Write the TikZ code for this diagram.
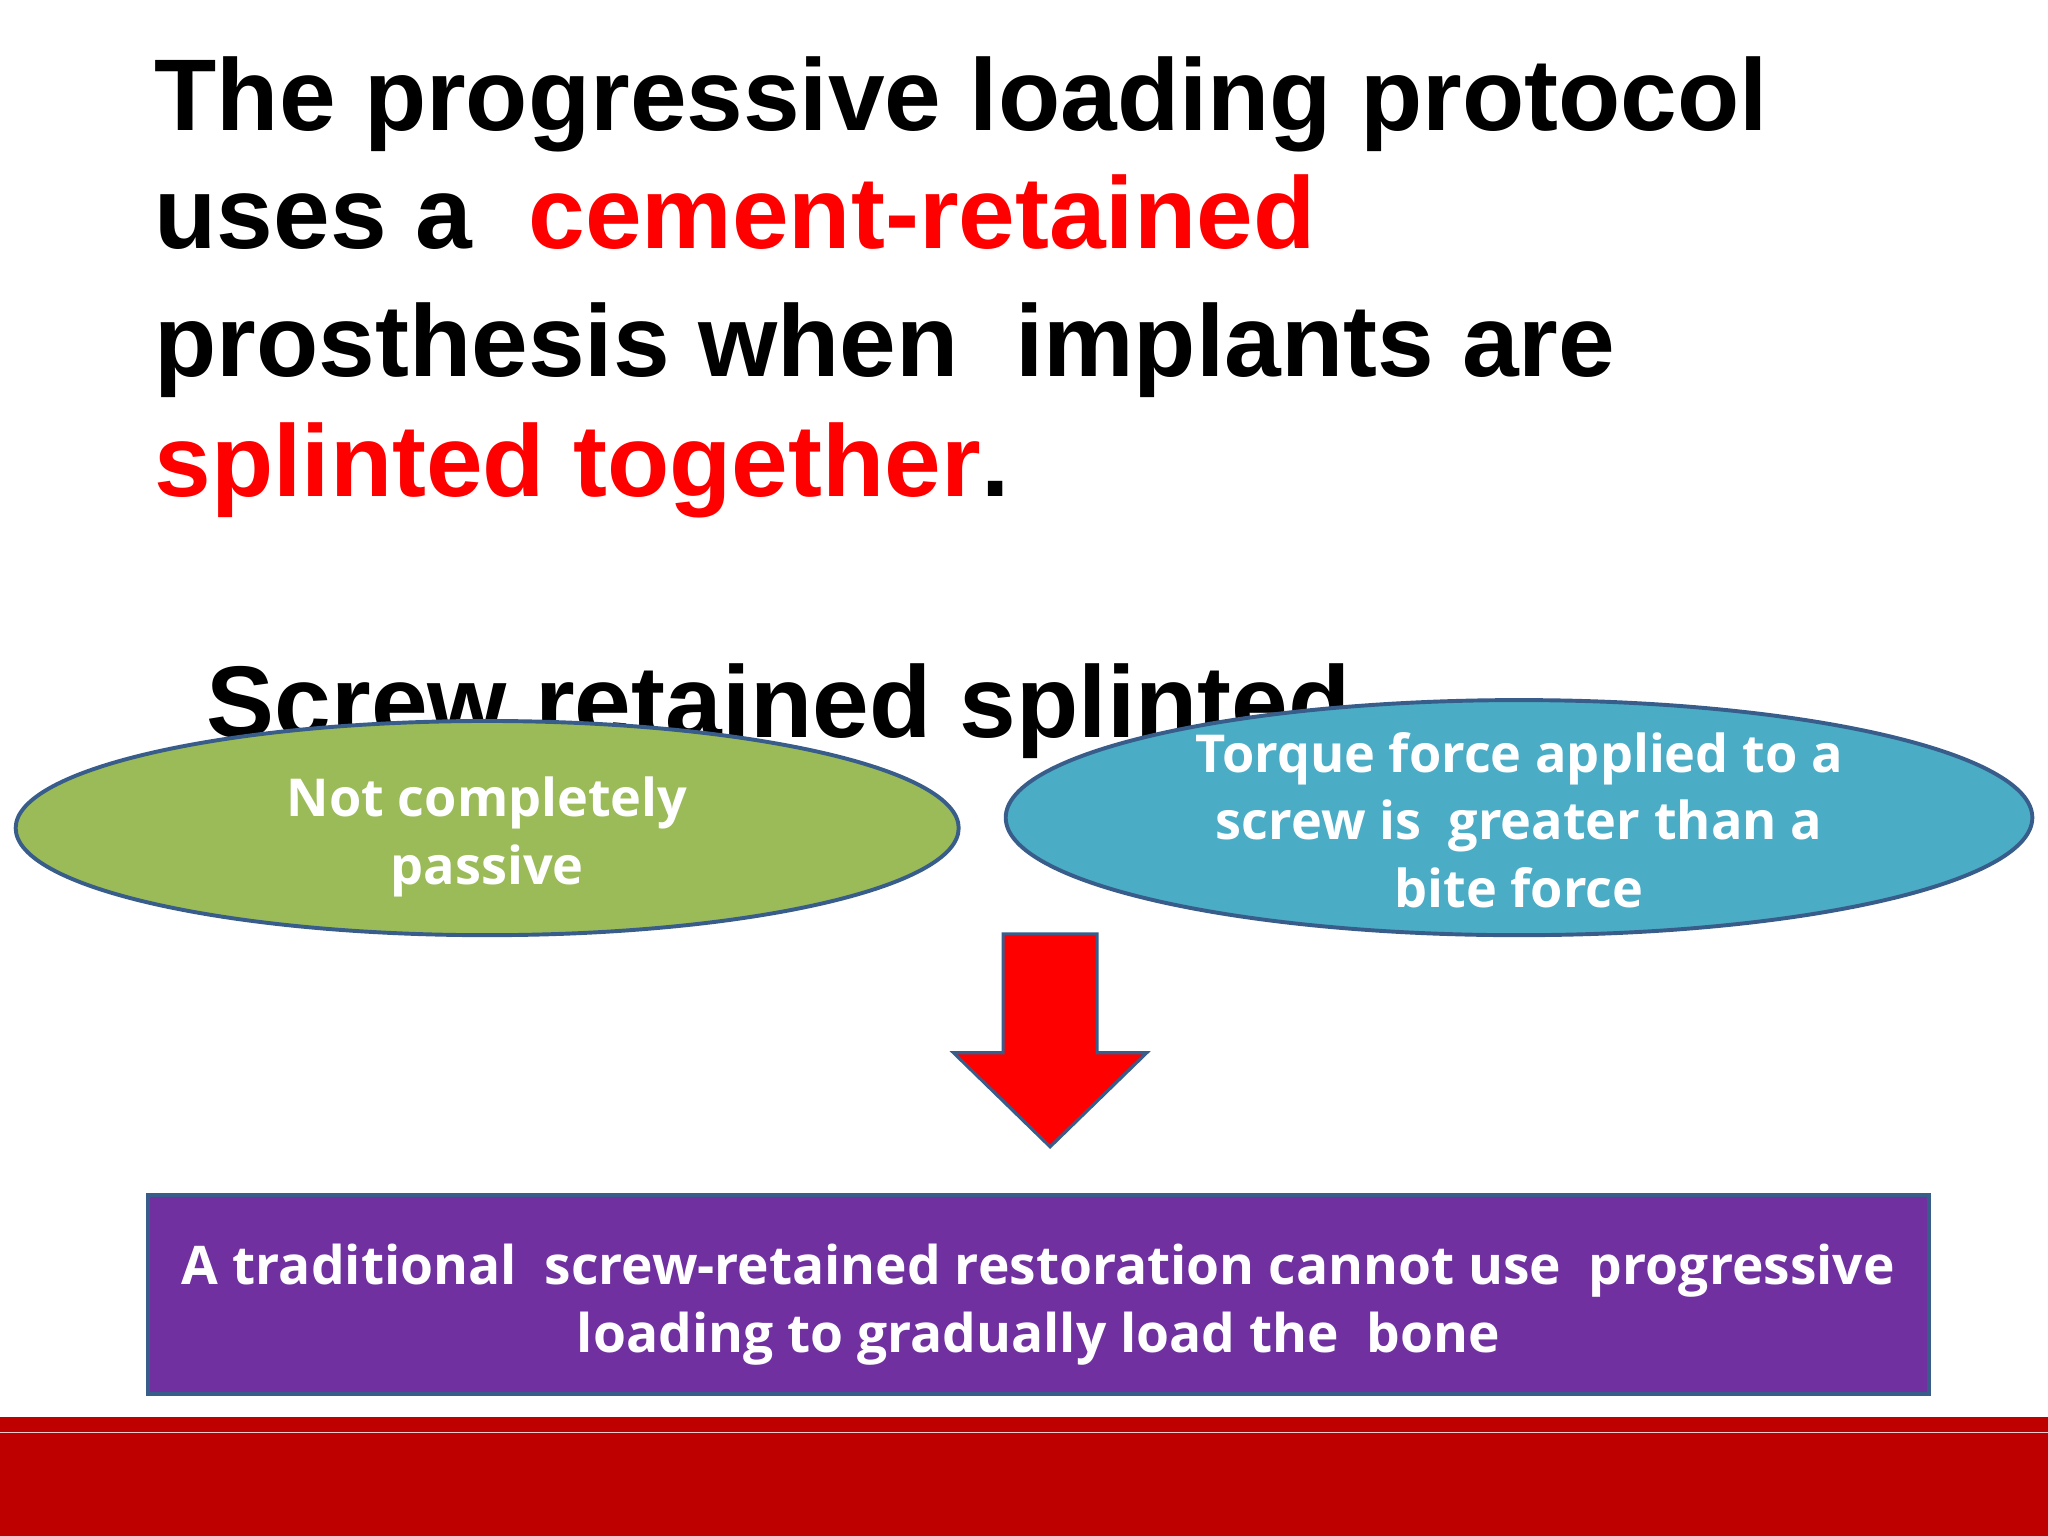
\documentclass[tikz,border=0pt]{standalone}
\usepackage{fontspec}
\setmainfont{Liberation Sans}
\newfontfamily\bodyf{Open Sans}
\usetikzlibrary{shapes.geometric}
\definecolor{tred}{HTML}{FF0000}
\definecolor{gfill}{HTML}{9BBB59}
\definecolor{bfill}{HTML}{4BACC6}
\definecolor{pfill}{HTML}{7030A0}
\definecolor{edge}{HTML}{385D8A}
\definecolor{band}{HTML}{BF0000}
\tikzset{
 title/.style={anchor=base west,inner sep=0,font=\fontsize{39}{46}\selectfont\bfseries},
 oval/.style={ellipse,draw=edge,line width=1.5pt},
 wtext/.style={text=white,align=center,font=\bodyf\fontsize{20}{26}\selectfont\bfseries}
}
\begin{document}
\begin{tikzpicture}[x=0.5pt,y=-0.5pt]
\useasboundingbox (0,0) rectangle (1568,1176);
\fill[white] (0,0) rectangle (1568,1176);
\node[title] (t1) at (118,100) {The progressive loading protocol};
\node[title] (t2) at (118,190) {uses a\ \ \textcolor{tred}{cement-retained}};
\node[title] (t3) at (118,288) {prosthesis when\ \ implants are};
\node[title] (t4) at (118,380) {\textcolor{tred}{splinted together}.};
\node[title] (t5) at (158,565) {Screw retained splinted};
\node[oval,fill=gfill,minimum width=361pt,minimum height=82pt] (g) at (373,634) {};
\node[wtext] at (373,641) {Not completely\\passive};
\node[oval,fill=bfill,minimum width=393pt,minimum height=90pt] (b) at (1163,626) {};
\node[wtext] at (1163,628) {Torque force applied to a\\screw is\ \ greater than a\\bite force};
\draw[edge,fill=tred,line width=1.2pt] (768,715) -- (840,715) -- (840,806) -- (878,806) -- (804,878) -- (730,806) -- (768,806) -- cycle;
\node[draw=edge,fill=pfill,line width=1.5pt,minimum width=682pt,minimum height=76pt,inner sep=0] (p) at (795,991) {};
\node[wtext,font=\bodyf\fontsize{20.4}{26}\selectfont\bfseries] at (795,999) {A traditional\ \ screw-retained restoration cannot use\ \ progressive\\loading to gradually load the\ \ bone};
\fill[band] (0,1085) rectangle (1568,1176);
\draw[white!80!band,line width=0.5pt] (0,1097) -- (1568,1097);
\end{tikzpicture}
\end{document}
